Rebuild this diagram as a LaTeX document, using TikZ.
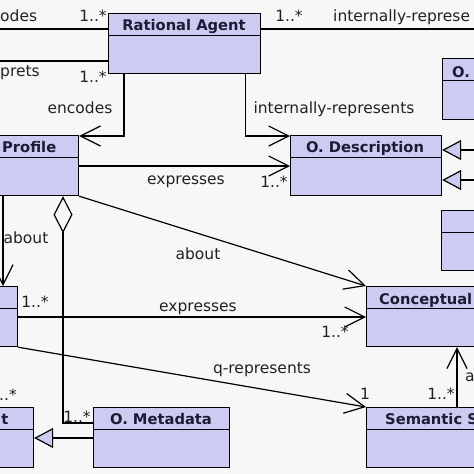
\documentclass[tikz,border=0pt]{standalone}
\usepackage{fontspec}
\setmainfont{DejaVu Sans}
\usetikzlibrary{arrows.meta}
\definecolor{bgc}{RGB}{247,247,247}
\definecolor{boxfill}{RGB}{204,204,242}
\definecolor{namec}{RGB}{28,28,52}
\definecolor{labelc}{RGB}{34,34,34}
\tikzset{
  cls/.style={draw=black, fill=boxfill, line width=1.2pt, inner sep=0pt, anchor=north west},
  boxline/.style={draw=black, line width=1.2pt},
  cname/.style={font=\bfseries\fontsize{14.7}{17}\selectfont, text=namec, inner sep=0pt},
  lbl/.style={font=\fontsize{15.5}{18}\selectfont, text=labelc, inner sep=0pt},
  conn/.style={draw=black, line width=1.2pt},
  assoc/.style={conn, -{Straight Barb[length=20pt,width=20pt]}},
  gen/.style={conn, -{Triangle[length=19pt,width=20pt,fill=boxfill]}},
  aggr/.style={conn, {Diamond[length=37pt,width=19pt,fill=bgc]}-},
}
\newcommand\divline[1]{\draw[boxline] ([yshift=-22.5pt]#1.north west) -- ([yshift=-22.5pt]#1.north east);}
\begin{document}
\begin{tikzpicture}[x=1pt,y=-1pt]
\fill[bgc] (0,0) rectangle (474,474);
\useasboundingbox (0,0) rectangle (474,474);

% class boxes
\node[cls, minimum width=152pt, minimum height=60pt] (ra) at (108,13) {};
\node[cls, minimum width=98pt, minimum height=60pt] (prof) at (-20,135) {};
\node[cls, minimum width=151pt, minimum height=60pt] (od) at (290,135) {};
\node[cls, minimum width=50pt, minimum height=61pt] (otop) at (442,58) {};
\node[cls, minimum width=50pt, minimum height=60pt] (mr) at (441,210) {};
\node[cls, minimum width=130pt, minimum height=60pt] (conc) at (366,286) {};
\node[cls, minimum width=130pt, minimum height=60pt] (sem) at (366,407) {};
\node[cls, minimum width=37pt, minimum height=60pt] (lb) at (-20,286) {};
\node[cls, minimum width=53pt, minimum height=60pt] (bl) at (-20,407) {};
\node[cls, minimum width=136pt, minimum height=60pt] (meta) at (93,407) {};
\divline{ra}\divline{prof}\divline{od}\divline{otop}\divline{mr}
\divline{conc}\divline{sem}\divline{lb}\divline{bl}\divline{meta}

% class names
\node[cname, anchor=base] (ra-t) at (184,30) {Rational Agent};
\node[cname, anchor=base west] (prof-t) at (2,152) {Profile};
\node[cname, anchor=base] (od-t) at (365,152) {O. Description};
\node[cname, anchor=base west] (otop-t) at (452,77) {O.};
\node[cname, anchor=base west] (conc-t) at (379,304) {Conceptual};
\node[cname, anchor=base west] (sem-t) at (385,424) {Semantic S};
\node[cname, anchor=base east] (bl-t) at (8.5,424) {t};
\node[cname, anchor=base] (meta-t) at (161,424) {O. Metadata};

% free ends
\coordinate (l1) at (-5,29);
\coordinate (l2) at (-5,61);
\coordinate (r1) at (480,29);
\coordinate (g1) at (480,150);
\coordinate (g2) at (480,180);

% connectors
\draw[conn] (l1) -- (l1 -| ra.west);
\draw[conn] (l2) -- (l2 -| ra.west);
\draw[conn] (ra.east |- r1) -- (r1);
\draw[assoc] ([xshift=16pt]ra.south west) |- ([yshift=-1pt]prof.north east);
\draw[assoc] ([xshift=-16pt]ra.south east) |- ([yshift=-1pt]od.north west);
\draw[assoc] ([yshift=-31pt]prof.north east) -- ([yshift=-31pt]od.north west);
\draw[gen] (g1) -- (g1 -| od.east);
\draw[gen] (g2) -- (g2 -| od.east);
\draw[assoc] ([xshift=23pt]prof.south west) -- ([xshift=23pt]lb.north west);
\draw[aggr] ([xshift=83pt]prof.south west) |- ([yshift=-16pt]meta.north west);
\draw[assoc] ([yshift=-31pt]lb.north east) -- ([yshift=-31pt]conc.north west);
\draw[assoc] (prof.south east) -- (conc.north west);
\draw[assoc] (lb.south east) -- (sem.north west);
\draw[assoc] ([xshift=91pt]sem.north west) -- ([xshift=91pt]conc.south west);
\draw[gen] ([yshift=-31pt]meta.north west) -- ([yshift=-31pt]bl.north east);

% labels
\node[lbl, anchor=base west] (t1) at (0,21) {odes};
\node[lbl, anchor=base] (t2) at (93,21) {1..*};
\node[lbl, anchor=base west] (t3) at (0,76) {prets};
\node[lbl, anchor=base] (t4) at (93,82) {1..*};
\node[lbl, anchor=base] (t5) at (289,21) {1..*};
\node[lbl, anchor=base west] (t6) at (333,21) {internally-represe};
\node[lbl, anchor=base] (t7) at (80,113) {encodes};
\node[lbl, anchor=base] (t8) at (334,113) {internally-represents};
\node[lbl, anchor=base] (t9) at (186,184) {expresses};
\node[lbl, anchor=base] (t10) at (274,187) {1..*};
\node[lbl, anchor=base] (t11) at (26,243) {about};
\node[lbl, anchor=base] (t12) at (198,259) {about};
\node[lbl, anchor=base] (t13) at (35,307) {1..*};
\node[lbl, anchor=base] (t14) at (198,311) {expresses};
\node[lbl, anchor=base] (t15) at (335,337) {1..*};
\node[lbl, anchor=base] (t16) at (262,373) {q-represents};
\node[lbl, anchor=base] (t17) at (365,399) {1};
\node[lbl, anchor=base] (t18) at (441,399) {1..*};
\node[lbl, anchor=base west] (t19) at (465,381) {a};
\node[lbl, anchor=base] (t20) at (77,422) {1..*};
\node[lbl, anchor=base east] (t21) at (17,400) {..*};
\end{tikzpicture}
\end{document}
